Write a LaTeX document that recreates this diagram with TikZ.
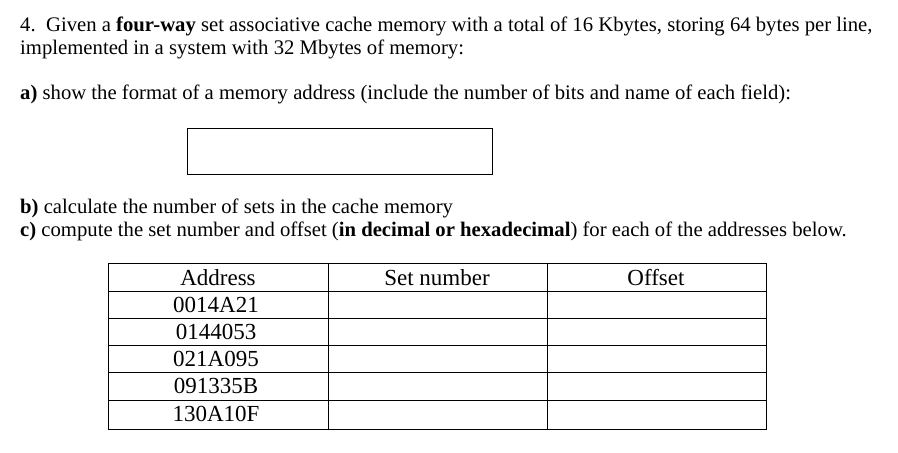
\documentclass[tikz,border=0pt]{standalone}
\usepackage{fontspec}
\setmainfont{Liberation Serif}
\begin{document}
\begin{tikzpicture}[x=1pt,y=-1pt,
  txt/.style={anchor=base west,inner sep=0pt,font=\fontsize{20.7}{24}\selectfont},
  cell/.style={anchor=base,inner sep=0pt,font=\fontsize{23}{26}\selectfont},
  grid/.style={line width=0.9pt,black}]
\useasboundingbox (0,0) rectangle (898,453);
\node[txt] (l1) at (20,31) {4.\ \ Given a \textbf{four-way} set associative cache memory with a total of 16 Kbytes, storing 64 bytes per line,};
\node[txt] (l2) at (20,54) {implemented in a system with 32 Mbytes of memory:};
\node[txt] (la) at (20,99) {\textbf{a)} show the format of a memory address (include the number of bits and name of each field):};
\draw[grid] (187,128) rectangle (492,174);
\node[txt] (lb) at (20,213) {\textbf{b)} calculate the number of sets in the cache memory};
\node[txt] (lc) at (20,236) {\textbf{c)} compute the set number and offset (\textbf{in decimal or hexadecimal}) for each of the addresses below.};
% table
\draw[grid] (108,263) rectangle (766,429);
\foreach \y in {291,318,345,372,400} \draw[grid] (108,\y) -- (766,\y);
\draw[grid] (328,263) -- (328,429);
\draw[grid] (547,263) -- (547,429);
\node[cell] (h1) at (218,285) {Address};
\node[cell] (h2) at (437,285) {Set number};
\node[cell] (h3) at (656,285) {Offset};
\node[cell] (r1) at (216,312) {0014A21};
\node[cell] (r2) at (216,339) {0144053};
\node[cell] (r3) at (216,366) {021A095};
\node[cell] (r4) at (216,393) {091335B};
\node[cell] (r5) at (216,421) {130A10F};
\end{tikzpicture}
\end{document}
